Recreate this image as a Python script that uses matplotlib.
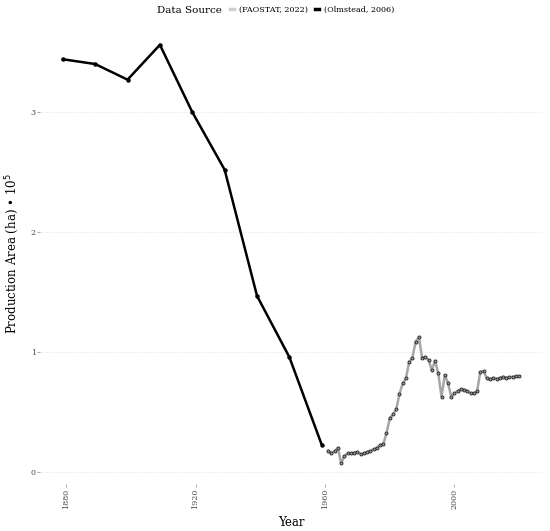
import matplotlib
matplotlib.use("Agg")
import matplotlib.pyplot as plt
from matplotlib.lines import Line2D

plt.rcParams['font.family'] = ['DejaVu Serif']

# Olmstead (2006) census years
olm_years = [1879, 1889, 1899, 1909, 1919, 1929, 1939, 1949, 1959]
olm_area = [3.44, 3.40, 3.27, 3.56, 3.00, 2.52, 1.47, 0.96, 0.23]

# FAOSTAT (2022)
fao_years = list(range(1961, 2021))
fao_area = [0.181, 0.159, 0.179, 0.206, 0.076, 0.137, 0.159, 0.159, 0.165, 0.173,
            0.151, 0.159, 0.170, 0.181, 0.193, 0.206, 0.229, 0.235, 0.326, 0.450,
            0.484, 0.525, 0.653, 0.741, 0.783, 0.921, 0.955, 1.088, 1.129, 0.955,
            0.963, 0.935, 0.852, 0.930, 0.824, 0.630, 0.810, 0.747, 0.630, 0.658,
            0.677, 0.694, 0.690, 0.677, 0.658, 0.658, 0.680, 0.838, 0.843, 0.783,
            0.774, 0.788, 0.780, 0.788, 0.797, 0.788, 0.793, 0.797, 0.800, 0.802]

x_ticks = [1880, 1920, 1960, 2000]
y_ticks = [0, 1, 2, 3]

fig = plt.figure(figsize=(5.5, 5.31), dpi=100)
ax = fig.add_axes([0.0727, 0.088, 0.9128, 0.867])

ax.plot(olm_years, olm_area, color='black', lw=1.8, zorder=3,
        marker='o', markersize=2.2, markerfacecolor='black', markeredgecolor='black')
ax.plot(fao_years, fao_area, color='#a6a6a6', lw=1.8, zorder=3)
ax.plot(fao_years, fao_area, ls='none', marker='o', markersize=2.2,
        markerfacecolor='#9a9a9a', markeredgecolor='#222222', markeredgewidth=0.6, zorder=4)

ax.set_xlim(1879 - 0.05 * 141, 2020 + 0.05 * 141)
ymin, ymax = 0.076, 3.56
r = ymax - ymin
ax.set_ylim(ymin - 0.05 * r, ymax + 0.05 * r)

ax.set_xticks(x_ticks)
ax.set_xticklabels([str(t) for t in x_ticks], rotation=90, fontsize=5.8, color='#4d4d4d')
ax.set_yticks(y_ticks)
ax.set_yticklabels([str(t) for t in y_ticks], fontsize=5.8, color='#4d4d4d')
ax.tick_params(axis='both', length=2, width=0.5, color='#888888', pad=1)

for s in ax.spines.values():
    s.set_visible(False)
ax.grid(axis='y', color='#dddddd', lw=0.6, ls=':')
ax.grid(axis='x', visible=False)

ax.set_xlabel('Year', fontsize=8.5, labelpad=5)
ax.set_ylabel('Production Area (ha) \u2022 10$^5$', fontsize=8.5, labelpad=7)

fig.text(0.403, 0.981, 'Data Source', fontsize=7.5, ha='right', va='center')
handles = [Line2D([0], [0], color='#cfcfcf', lw=2.5),
           Line2D([0], [0], color='black', lw=2.5)]
fig.legend(handles, ['(FAOSTAT, 2022)', '(Olmstead, 2006)'], loc='center left',
           bbox_to_anchor=(0.411, 0.981), ncol=2, frameon=False, fontsize=5.8,
           handlelength=0.5, handletextpad=0.6, columnspacing=0.9, borderpad=0)

fig.savefig('out.png', dpi=100, facecolor='white')
